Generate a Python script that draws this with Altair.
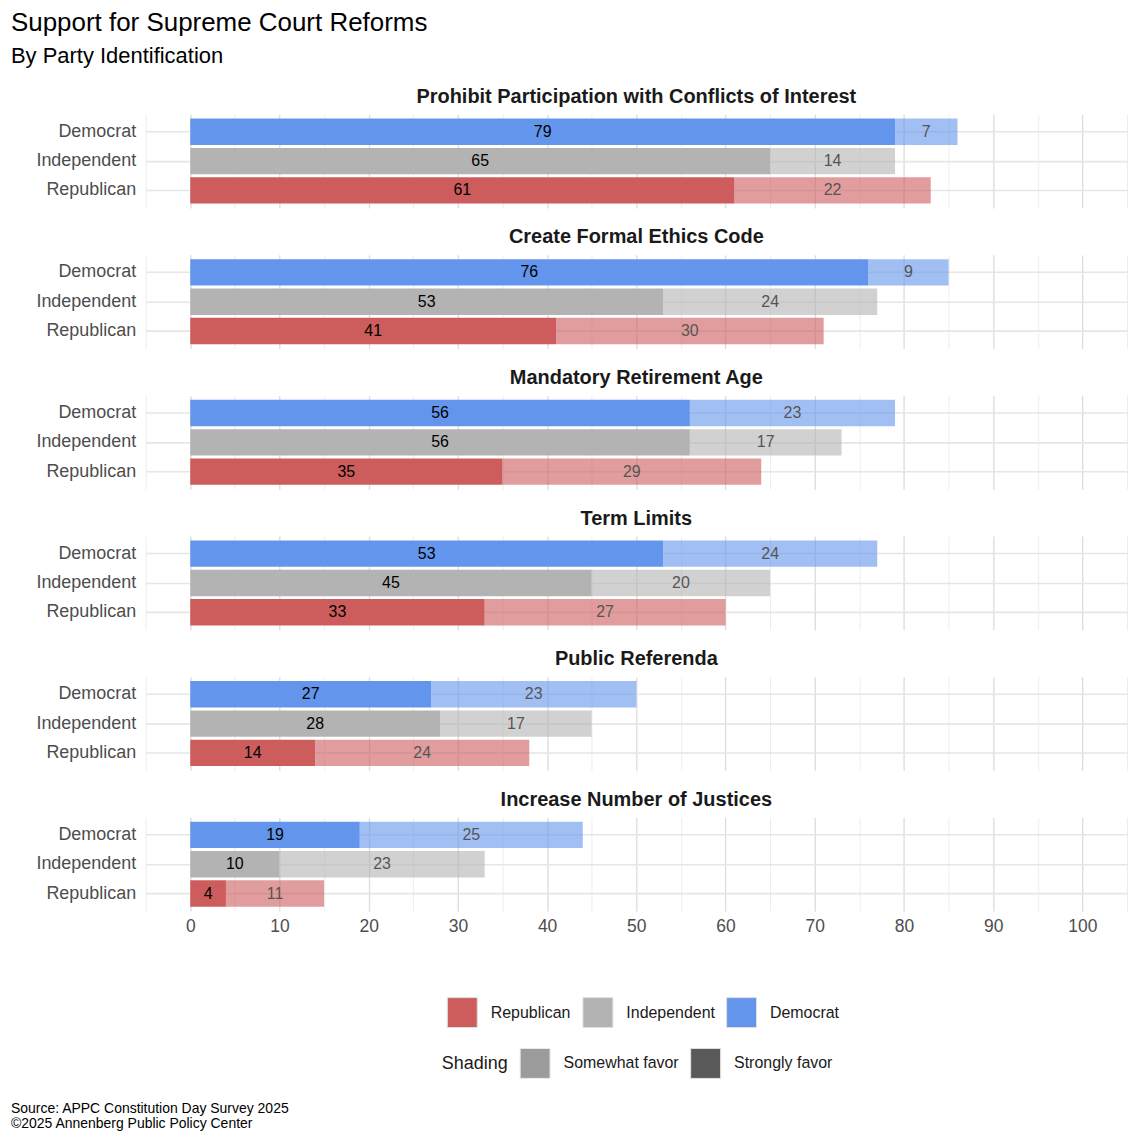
import altair as alt
import pandas as pd

reforms = [
    "Prohibit Participation with Conflicts of Interest",
    "Create Formal Ethics Code",
    "Mandatory Retirement Age",
    "Term Limits",
    "Public Referenda",
    "Increase Number of Justices",
]
parties = ["Democrat", "Independent", "Republican"]
legend_parties = ["Republican", "Independent", "Democrat"]
party_colors = ["#CD5C5C", "#B3B3B3", "#6495ED"]
shadings = ["Somewhat favor", "Strongly favor"]

strongly_dem = [79, 76, 56, 53, 27, 19]
strongly_ind = [65, 53, 56, 45, 28, 10]
strongly_rep = [61, 41, 35, 33, 14, 4]
somewhat_dem = [7, 9, 23, 24, 23, 25]
somewhat_ind = [14, 24, 17, 20, 17, 23]
somewhat_rep = [22, 30, 29, 27, 24, 11]

caption_text = "Source: APPC Constitution Day Survey 2025\n\u00a92025 Annenberg Public Policy Center"

strong = {"Democrat": strongly_dem, "Independent": strongly_ind, "Republican": strongly_rep}
some = {"Democrat": somewhat_dem, "Independent": somewhat_ind, "Republican": somewhat_rep}

rows = []
for i, r in enumerate(reforms):
    for p in parties:
        s = strong[p][i]
        w = some[p][i]
        rows.append(dict(reform=r, party=p, shading="Strongly favor", start=0, end=s, value=s, mid=s / 2))
        rows.append(dict(reform=r, party=p, shading="Somewhat favor", start=s, end=s + w, value=w, mid=s + w / 2))
df = pd.DataFrame(rows)

FONT = "Liberation Sans"

y_enc = alt.Y(
    "party:N",
    sort=parties,
    scale=alt.Scale(domain=parties, paddingInner=0.1, paddingOuter=0.15),
    axis=alt.Axis(
        title=None, grid=True, tickBand="center", bandPosition=0.5, ticks=False, domain=False,
        labelFontSize=18, labelColor="#4D4D4D", labelPadding=10, labelFont=FONT,
        minExtent=135, gridColor="#E6E6E6", gridWidth=1.6,
    ),
)
x_enc = alt.X(
    "start:Q",
    scale=alt.Scale(domain=[-5, 105], nice=False, zero=False),
    axis=alt.Axis(
        title=None, values=list(range(-5, 106, 5)),
        labelExpr="(datum.value % 10 === 0 && datum.value >= 0 && datum.value <= 100) ? datum.label : ''",
        ticks=False, domain=False, labelFontSize=17.5, labelColor="#4D4D4D", labelFont=FONT,
        labelPadding=6,
        gridColor={"condition": {"test": "datum.value % 10 === 0", "value": "#DEDEDE"}, "value": "#EDEDED"},
        gridWidth={"condition": {"test": "datum.value % 10 === 0", "value": 1.4}, "value": 1.0},
    ),
)

bars = alt.Chart().mark_bar().encode(
    x=x_enc,
    x2="end:Q",
    y=y_enc,
    color=alt.Color(
        "party:N",
        scale=alt.Scale(domain=legend_parties, range=party_colors),
        legend=alt.Legend(
            title=None, orient="none", legendX=302, legendY=885, direction="horizontal",
            symbolType="square", symbolSize=900, symbolStrokeColor="#E0E0E0", symbolStrokeWidth=1,
            labelFontSize=16, labelFont=FONT, labelColor="#1A1A1A", labelOffset=13, columnPadding=9,
        ),
    ),
    opacity=alt.Opacity(
        "shading:N",
        scale=alt.Scale(domain=shadings, range=[0.6, 1.0]),
        legend=alt.Legend(
            title="Shading", titleOrient="left", orient="none", legendX=297, legendY=936,
            direction="horizontal", symbolType="square", symbolSize=900,
            symbolFillColor="#595959", symbolStrokeColor="#E0E0E0", symbolStrokeWidth=1,
            labelFontSize=16, labelFont=FONT, labelColor="#1A1A1A", labelOffset=13, columnPadding=9,
            titleFontSize=18, titleFont=FONT, titleFontWeight="normal", titleColor="#1A1A1A",
            titlePadding=11,
        ),
    ),
)

text = alt.Chart().mark_text(fontSize=16, font=FONT).encode(
    x=alt.X("mid:Q"),
    y=alt.Y("party:N", sort=parties),
    text=alt.Text("value:Q", format="d"),
    color=alt.condition(alt.datum.shading == "Strongly favor", alt.value("#000000"), alt.value("#555555")),
)

facet = alt.layer(bars, text, data=df).properties(width=984, height=94).facet(
    row=alt.Row(
        "reform:N",
        sort=reforms,
        header=alt.Header(
            title=None, labelOrient="top", labelAnchor="middle", labelAngle=0,
            labelFontSize=20, labelFontWeight="bold", labelColor="#1A1A1A",
            labelFont=FONT, labelPadding=-12.4,
        ),
    ),
    spacing=19.0,
)

caption = alt.Chart(pd.DataFrame({"c": [caption_text]})).mark_text(
    align="left", baseline="top", fontSize=14, font=FONT, color="#000000", lineBreak="\n", lineHeight=15
).encode(
    x=alt.value(-135), y=alt.value(0), text="c:N"
).properties(width=984, height=30)

chart = alt.vconcat(facet, caption, spacing=167).properties(
    title=alt.TitleParams(
        "Support for Supreme Court Reforms",
        subtitle="By Party Identification",
        anchor="start", frame="bounds", fontSize=26, subtitleFontSize=22,
        font=FONT, subtitleFont=FONT, fontWeight="normal", color="#000000",
        subtitleColor="#000000", subtitlePadding=10, offset=17, dy=-3,
    ),
    padding={"left": 3, "top": 0, "right": 5, "bottom": 5},
).configure(font=FONT).configure_view(stroke=None)

chart.save("out.html", embed_options={"renderer": "svg", "actions": False})
